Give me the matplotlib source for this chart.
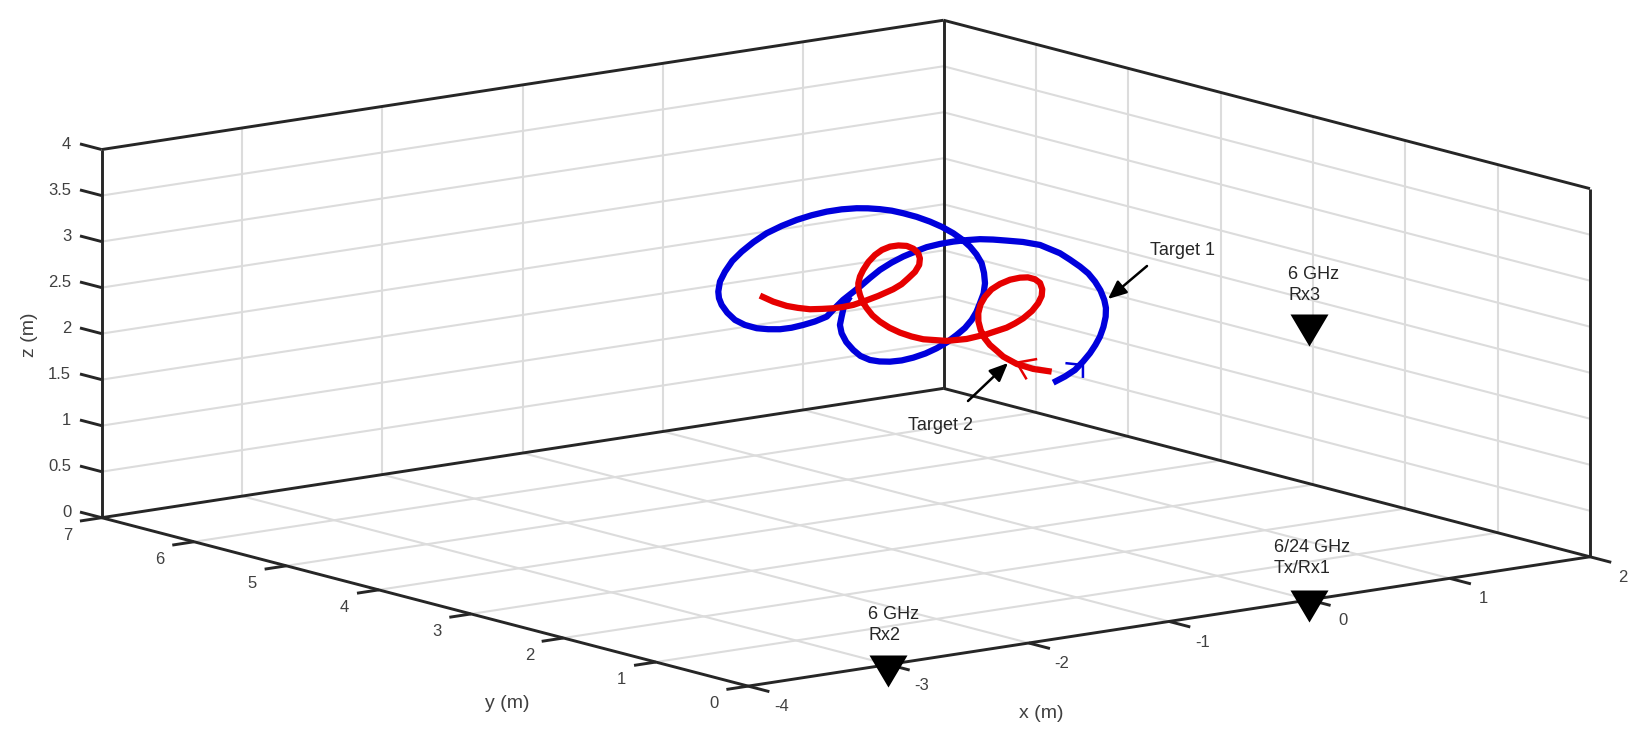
#!/usr/bin/env python3
"""Two target trajectories seen by the 6/24 GHz radar nodes, orthographic 3D view."""
import matplotlib
matplotlib.use("Agg")
import matplotlib.pyplot as plt
from mpl_toolkits.mplot3d import proj3d

W, H = 1645, 737

x_ticks = [-4, -3, -2, -1, 0, 1, 2]
y_ticks = [0, 1, 2, 3, 4, 5, 6, 7]
z_ticks = [0, 0.5, 1, 1.5, 2, 2.5, 3, 3.5, 4]
z_tick_labels = ["0", "0.5", "1", "1.5", "2", "2.5", "3", "3.5", "4"]

# trajectories (depth taken as y = 4 m)
target1_x = [0.807, 0.891, 0.962, 1.019, 1.069, 1.108, 1.140, 1.165, 1.181, 1.183,
             1.171, 1.144, 1.105, 1.057, 0.998, 0.926, 0.855, 0.713, 0.591, 0.475,
             0.378, 0.285, 0.190, 0.095, 0.000, -0.095, -0.178, -0.262, -0.346, -0.428,
             -0.499, -0.570, -0.691, -0.755, -0.807, -0.891, -0.974, -1.058, -1.140, -1.224,
             -1.306, -1.390, -1.461, -1.516, -1.556, -1.575, -1.580, -1.568, -1.532, -1.480,
             -1.413, -1.330, -1.235, -1.128, -1.021, -0.914, -0.807, -0.701, -0.594, -0.513,
             -0.428, -0.344, -0.262, -0.166, -0.071, 0.014, 0.095, 0.157, 0.214, 0.260,
             0.297, 0.314, 0.321, 0.311, 0.285, 0.260, 0.226, 0.178, 0.119, 0.050,
             -0.023, -0.103, -0.190, -0.273, -0.356, -0.431, -0.499, -0.567, -0.618, -0.668,
             -0.701, -0.713, -0.701, -0.684, -0.641]
target1_z = [1.126, 1.173, 1.227, 1.304, 1.384, 1.465, 1.547, 1.647, 1.755, 1.849,
             1.939, 2.049, 2.154, 2.254, 2.342, 2.435, 2.521, 2.644, 2.705, 2.747,
             2.781, 2.807, 2.819, 2.825, 2.822, 2.809, 2.780, 2.746, 2.699, 2.640,
             2.569, 2.492, 2.375, 2.293, 2.221, 2.188, 2.170, 2.159, 2.162, 2.182,
             2.212, 2.267, 2.338, 2.430, 2.524, 2.601, 2.674, 2.780, 2.880, 2.984,
             3.069, 3.152, 3.228, 3.282, 3.322, 3.348, 3.362, 3.362, 3.349, 3.329,
             3.300, 3.264, 3.217, 3.155, 3.081, 3.004, 2.916, 2.834, 2.743, 2.647,
             2.543, 2.433, 2.320, 2.211, 2.111, 2.022, 1.943, 1.867, 1.805, 1.742,
             1.694, 1.656, 1.631, 1.620, 1.626, 1.646, 1.678, 1.738, 1.815, 1.913,
             2.016, 2.109, 2.196, 2.308, 2.400]
target1_y = [4] * len(target1_x)

target2_x = [0.796, 0.665, 0.547, 0.451, 0.406, 0.356, 0.317, 0.290, 0.274, 0.273,
             0.289, 0.321, 0.367, 0.428, 0.499, 0.570, 0.627, 0.677, 0.713, 0.729,
             0.725, 0.700, 0.656, 0.594, 0.534, 0.475, 0.333, 0.190, 0.048, -0.119,
             -0.203, -0.285, -0.360, -0.428, -0.481, -0.522, -0.552, -0.570, -0.581, -0.582,
             -0.570, -0.547, -0.510, -0.463, -0.413, -0.356, -0.296, -0.237, -0.189, -0.155,
             -0.143, -0.148, -0.178, -0.226, -0.274, -0.333, -0.440, -0.534, -0.618, -0.691,
             -0.760, -0.841, -0.926, -1.012, -1.092, -1.188, -1.283]
target2_z = [1.248, 1.308, 1.390, 1.492, 1.564, 1.641, 1.726, 1.819, 1.916, 2.005,
             2.097, 2.174, 2.242, 2.287, 2.316, 2.322, 2.312, 2.280, 2.231, 2.159,
             2.087, 2.014, 1.940, 1.875, 1.833, 1.801, 1.763, 1.745, 1.757, 1.814,
             1.864, 1.925, 1.996, 2.078, 2.158, 2.246, 2.323, 2.401, 2.469, 2.531,
             2.602, 2.668, 2.746, 2.811, 2.854, 2.876, 2.875, 2.856, 2.814, 2.757,
             2.698, 2.629, 2.560, 2.502, 2.448, 2.408, 2.360, 2.328, 2.304, 2.299,
             2.301, 2.313, 2.329, 2.364, 2.404, 2.473, 2.561]
target2_y = [4] * len(target2_x)

# small direction heads near the start of each path
head1_x = [0.903, 1.019, 1.019]
head1_z = [1.314, 1.268, 1.141]
head2_x = [0.684, 0.547, 0.613]
head2_z = [1.409, 1.404, 1.219]

sensor_x = [0, -3, 0]
sensor_y = [0, 0, 0]
sensor_z = [0, 0, 3]

BLUE = "#0000dc"
RED = "#e60000"
EDGE = "#262626"
GRID = "#dcdcdc"
TEXT = "#404040"
LABEL = "#262626"

plt.rcParams["font.family"] = ["Liberation Sans", "DejaVu Sans"]

fig = plt.figure(figsize=(W / 100, H / 100), dpi=100, facecolor="white")

# square 3D panel bigger than the figure, so nothing gets clipped
S = 2400
left, bottom = -386.6, -848.6
ax = fig.add_axes([left / W, bottom / H, S / W, S / H], projection="3d",
                  proj_type="ortho", computed_zorder=False)
ax.set_xlim(-4, 2, view_margin=0)
ax.set_ylim(0, 7, view_margin=0)
ax.set_zlim(0, 4, view_margin=0)
ax.set_box_aspect((1, 1, 0.354), zoom=0.6259)
ax.view_init(elev=11.54, azim=-127.52)
ax.set_axis_off()

# flat overlay in picture pixels for labels and callouts
over = fig.add_axes([0, 0, 1, 1], facecolor="none")
over.set_xlim(0, W)
over.set_ylim(H, 0)
over.axis("off")


def seg(xs, ys, zs, color=EDGE, lw=2.1, zorder=2):
    ax.plot(xs, ys, zs, color=color, lw=lw, zorder=zorder, solid_capstyle="butt")


def label3d(xv, yv, zv, s, ha="center"):
    # 3D text has no usable 2D extent, so project it and keep it as plain text
    px, py, _ = proj3d.proj_transform(xv, yv, zv, ax.get_proj())
    over.text(px, py, s, transform=ax.transData, color=TEXT, fontsize=12, ha=ha, va="center")


# grid on the floor and the two back walls
for xv in x_ticks[1:-1]:
    seg([xv, xv], [0, 7], [0, 0], GRID, 1.5, 1)
    seg([xv, xv], [7, 7], [0, 4], GRID, 1.5, 1)
for yv in y_ticks[1:-1]:
    seg([-4, 2], [yv, yv], [0, 0], GRID, 1.5, 1)
    seg([2, 2], [yv, yv], [0, 4], GRID, 1.5, 1)
for zv in z_ticks[1:-1]:
    seg([-4, 2], [7, 7], [zv, zv], GRID, 1.5, 1)
    seg([2, 2], [0, 7], [zv, zv], GRID, 1.5, 1)

# box
seg([-4, 2], [0, 0], [0, 0])
seg([-4, -4], [0, 7], [0, 0])
seg([-4, 2], [7, 7], [0, 0])
seg([2, 2], [0, 7], [0, 0])
seg([-4, 2], [7, 7], [4, 4])
seg([2, 2], [0, 7], [4, 4])
seg([-4, -4], [7, 7], [0, 4])
seg([2, 2], [7, 7], [0, 4])
seg([2, 2], [0, 0], [0, 4])

# ticks and their labels
for xv in x_ticks:
    seg([xv, xv], [0, -0.23], [0, 0])
    label3d(xv, -0.36, -0.13, str(xv))
for yv in y_ticks:
    seg([-4, -4.155], [yv, yv], [0, 0])
    label3d(-4.243, yv, -0.134, str(yv))
for zv, lab in zip(z_ticks, z_tick_labels):
    seg([-4, -4], [7, 7.235], [zv, zv])
    label3d(-4, 7.33, zv - 0.03, lab, ha="right")

# trajectories
ax.plot(target1_x, target1_y, target1_z, color=BLUE, lw=4.5, zorder=3,
        solid_capstyle="butt", solid_joinstyle="round")
ax.plot(head1_x, [4] * 3, head1_z, color=BLUE, lw=1.8, zorder=3)
ax.plot(target2_x, target2_y, target2_z, color=RED, lw=4.5, zorder=4,
        solid_capstyle="butt", solid_joinstyle="round")
ax.plot(head2_x, [4] * 3, head2_z, color=RED, lw=1.8, zorder=4)

# sensors: the anchor sits above the middle of the triangle
tri = [(-19, 10), (19, 10), (0, -22)]
ax.plot(sensor_x, sensor_y, sensor_z, ls="none", marker=tri, ms=31.7,
        mfc="black", mec="black", mew=0, zorder=5)

over.text(30, 335, "z (m)", rotation=90, color=TEXT, fontsize=14, ha="center", va="center")
over.text(507, 704, "y (m)", color=TEXT, fontsize=14, ha="center", va="center")
over.text(1041, 714, "x (m)", color=TEXT, fontsize=14, ha="center", va="center")

for tx, ty, s in [(1288, 285, "6 GHz\nRx3"), (868, 625, "6 GHz\nRx2"),
                  (1274, 558, "6/24 GHz\nTx/Rx1")]:
    over.text(tx, ty, s, color=LABEL, fontsize=13, ha="left", va="center", linespacing=1.3)

over.text(1182, 250, "Target 1", color=LABEL, fontsize=13, ha="center", va="center")
over.text(941, 425, "Target 2", color=LABEL, fontsize=13, ha="center", va="center")
arrow = dict(arrowstyle="-|>,head_length=0.8,head_width=0.35", mutation_scale=14,
             lw=1.8, color="black", shrinkA=0, shrinkB=0)
over.annotate("", xy=(1108, 299), xytext=(1147, 266), arrowprops=arrow)
over.annotate("", xy=(1008, 363), xytext=(968, 401), arrowprops=arrow)

fig.savefig("out.png", dpi=100, facecolor="white")
plt.close(fig)
